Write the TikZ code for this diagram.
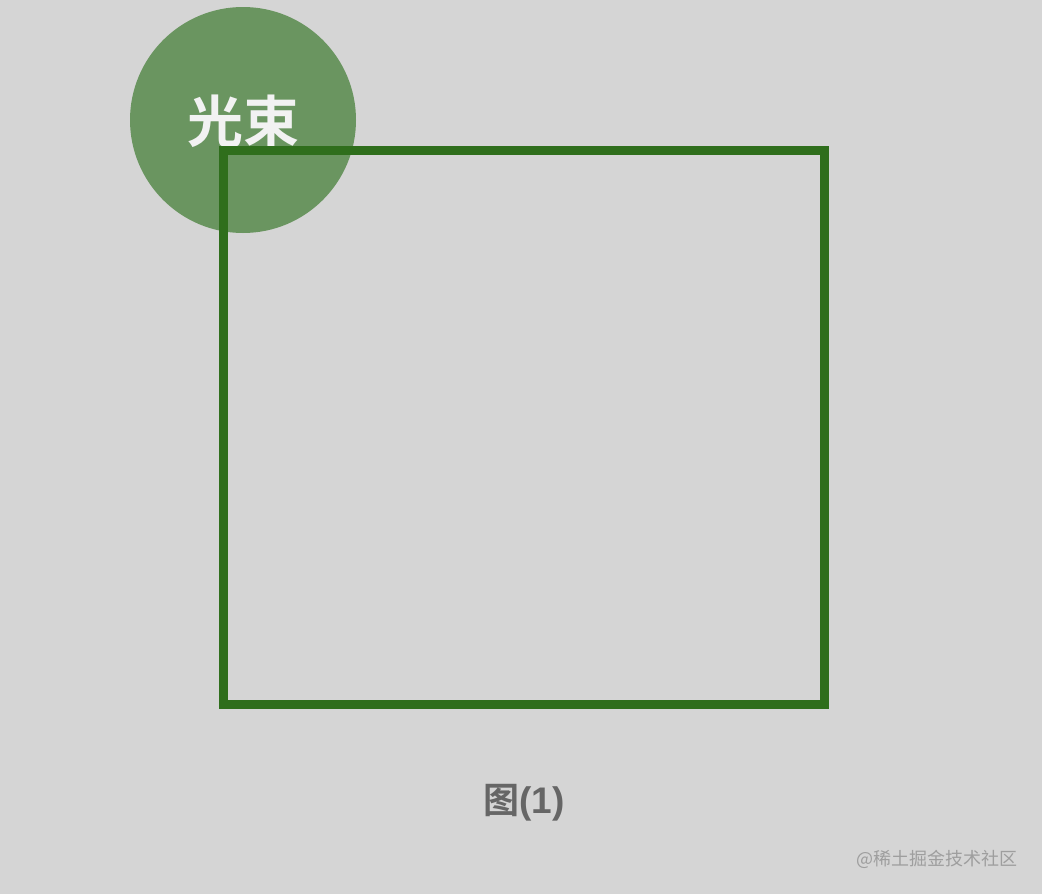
\documentclass[tikz,border=0pt]{standalone}
\usepackage{fontspec}
\newfontfamily\cjkb{Noto Sans CJK SC Bold}
\newfontfamily\cjk{Noto Sans CJK SC}
\newfontfamily\latb{Liberation Sans}
\definecolor{bg}{HTML}{D5D5D5}
\definecolor{beam}{HTML}{6A9560}
\definecolor{frame}{HTML}{2F6E1C}
\definecolor{capgray}{HTML}{666666}
\definecolor{wm}{HTML}{9E9E9E}
\tikzset{
  beamcircle/.style={fill=beam, draw=none},
  frameline/.style={draw=frame, line width=9pt, line join=miter},
  beamlabel/.style={text=white!95!black, font=\cjkb\fontsize{56}{56}\selectfont, inner sep=0pt},
  caption/.style={text=capgray, font=\cjkb\fontsize{36}{36}\selectfont, inner sep=0pt},
  watermark/.style={text=wm, font=\cjk\fontsize{18}{18}\selectfont, inner sep=0pt}
}
\begin{document}
\begin{tikzpicture}[x=1pt,y=-1pt]
  \fill[bg] (0,0) rectangle (1042,894);
  \useasboundingbox (0,0) rectangle (1042,894);
  \node[beamcircle, circle, minimum size=226pt, inner sep=0pt] (beam) at (243,120) {};
  \node[beamlabel] (beamtext) at (243,121) {光束};
  \draw[frameline] (223.5,150.5) rectangle (824,704);
  \node[caption] (cap) at (524,803) {图{\latb\bfseries\fontsize{37}{37}\selectfont(1)}};
  \node[watermark] (wmark) at (937,859) {@稀土掘金技术社区};
\end{tikzpicture}
\end{document}
